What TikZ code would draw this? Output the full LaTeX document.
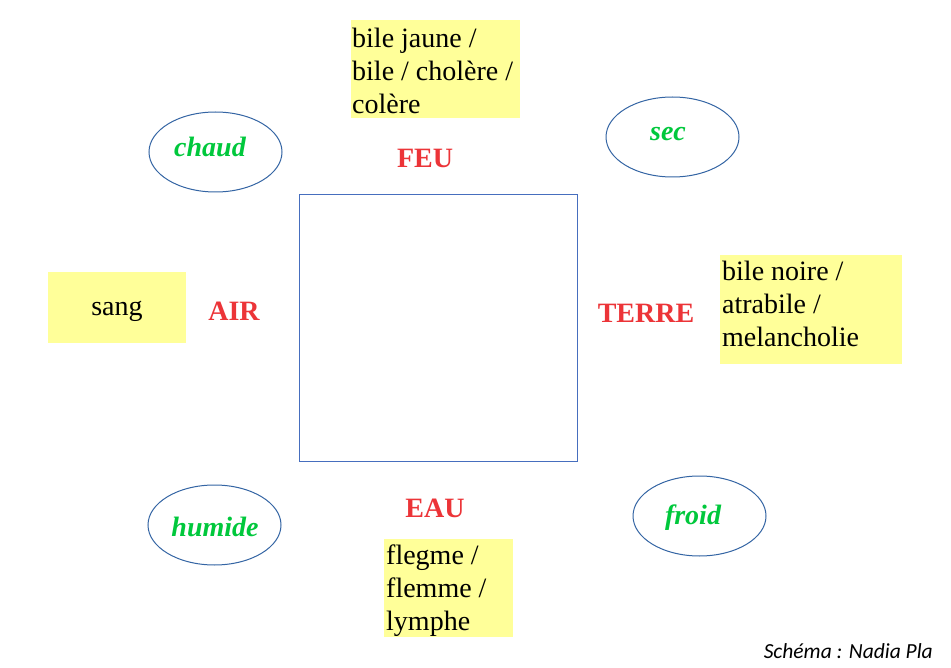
\documentclass[tikz,border=0pt]{standalone}
\usepackage{fontspec}
\setmainfont{Liberation Serif}
\newfontfamily\creditfont{Carlito}
\usetikzlibrary{shapes.geometric}
\definecolor{hred}{RGB}{236,52,56}
\definecolor{hgreen}{RGB}{0,200,60}
\definecolor{hyellow}{RGB}{255,255,153}
\definecolor{eblue}{RGB}{52,101,164}
\definecolor{sblue}{RGB}{70,110,190}
\tikzset{
  element/.style={font=\fontsize{28}{33}\selectfont\bfseries, text=hred, inner sep=0pt, anchor=base},
  quality/.style={font=\fontsize{28}{33}\selectfont\bfseries\itshape, text=hgreen, inner sep=0pt, anchor=base},
  qellipse/.style={draw=eblue, line width=1pt, ellipse, minimum width=133pt, minimum height=80pt, inner sep=0pt},
  ybox/.style={fill=hyellow, inner sep=0pt},
  htext/.style={font=\fontsize{28}{33}\selectfont, text=black, inner sep=0pt, align=left, anchor=north west},
}
\begin{document}
\begin{tikzpicture}[x=1pt,y=-1pt]
\useasboundingbox[fill=white] (0,0) rectangle (951,668);
% central square
\node[draw=sblue, line width=1pt, minimum width=278pt, minimum height=266pt, inner sep=0pt] (sq) at (438,328) {};
% ellipses
\node[qellipse] (e1) at (215.5,152) {};
\node[qellipse] (e2) at (672.5,137) {};
\node[qellipse] (e3) at (214.5,525) {};
\node[qellipse] (e4) at (699.5,516) {};
\node[quality] (chaud) at (210,157) {chaud};
\node[quality] (sec) at (668,141) {sec};
\node[quality] (humide) at (215,536) {humide};
\node[quality] (froid) at (693,524) {froid};
% elements
\node[element] (feu) at (425,168) {FEU};
\node[element] (air) at (234,321) {AIR};
\node[element] (terre) at (646,323) {TERRE};
\node[element] (eau) at (435,517) {EAU};
% humours: yellow boxes
\node[ybox, minimum width=169pt, minimum height=98pt] (b1) at (435.5,69) {};
\node[ybox, minimum width=138pt, minimum height=71pt] (b2) at (117,307.5) {};
\node[ybox, minimum width=182pt, minimum height=109pt] (b3) at (811,309.5) {};
\node[ybox, minimum width=129pt, minimum height=98pt] (b4) at (448.5,588) {};
% humours: texts
\node[htext] (h1) at (352,28) {bile jaune /\\bile / cholère /\\colère};
\node[font=\fontsize{28}{33}\selectfont, inner sep=0pt, anchor=base] (h2) at (117,316) {sang};
\node[htext] (h3) at (722,261) {bile noire /\\atrabile /\\melancholie};
\node[htext] (h4) at (386,545) {flegme /\\flemme /\\lymphe};
% credit
\node[font=\creditfont\itshape\fontsize{21.5}{25}\selectfont, text=black, inner sep=0pt, anchor=base east] (credit) at (933,658) {Schéma : Nadia Pla};
\end{tikzpicture}
\end{document}
